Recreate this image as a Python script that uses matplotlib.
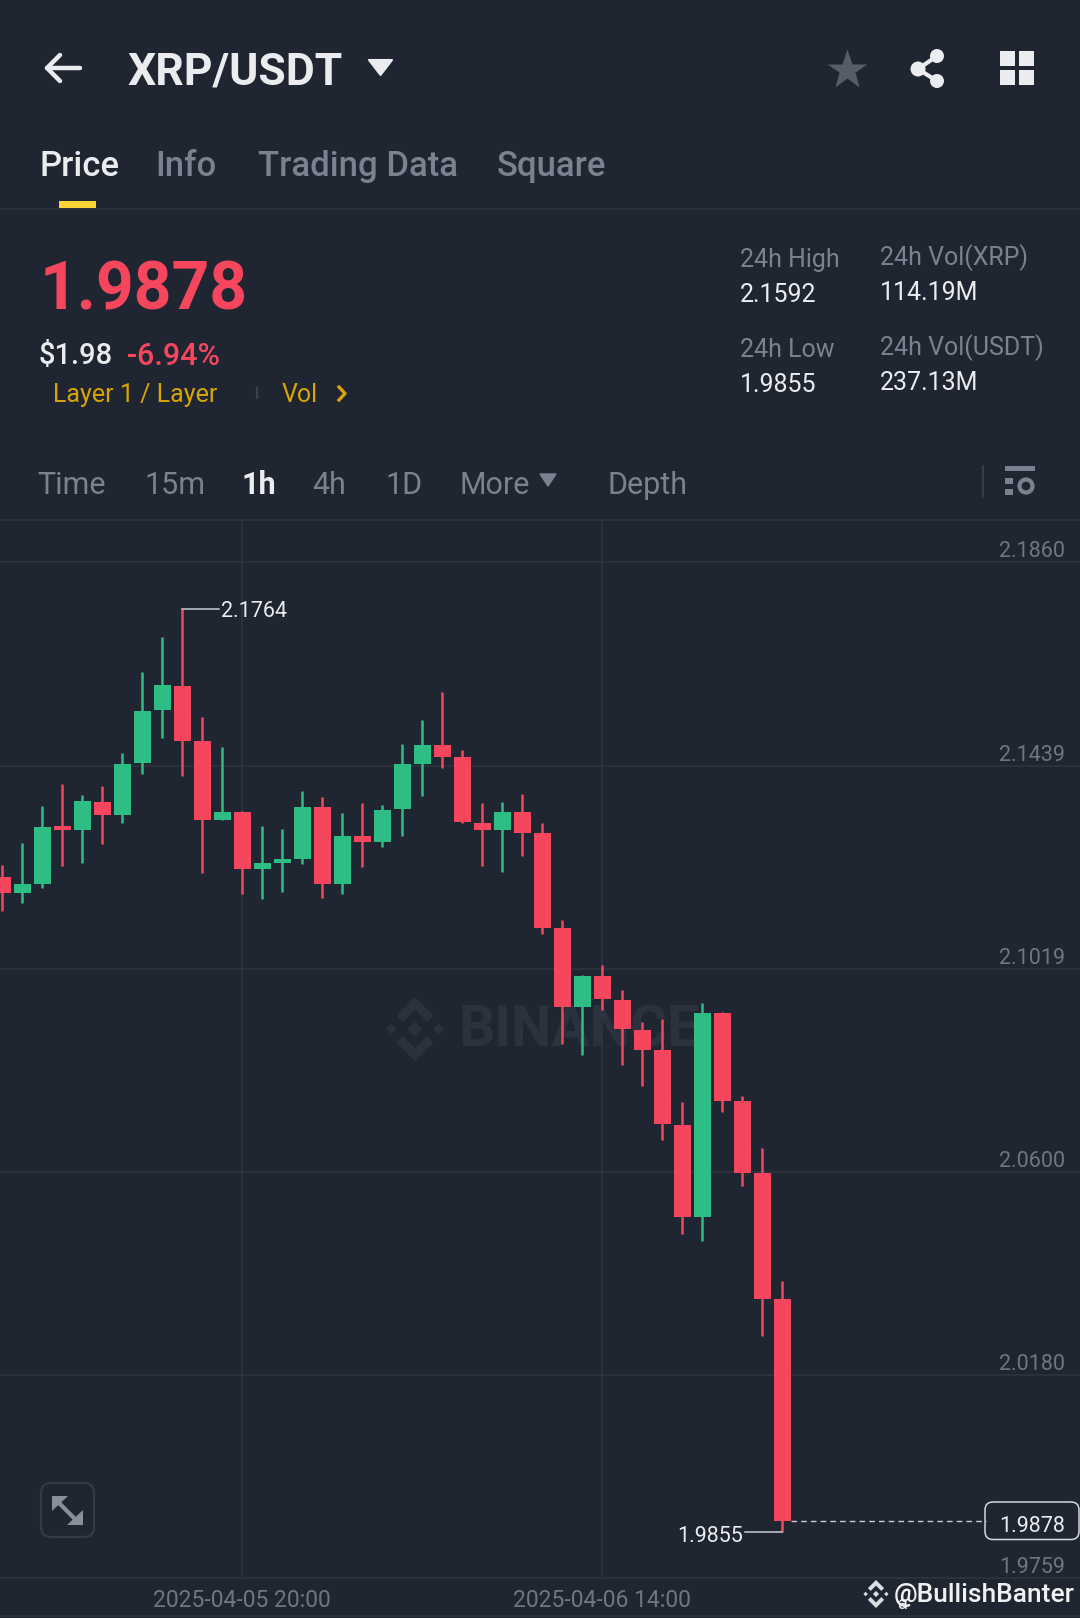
import numpy as np
import matplotlib
matplotlib.use('Agg')
import matplotlib.pyplot as plt
from matplotlib.patches import FancyBboxPatch, Polygon, Rectangle, Circle

# Candle values, hourly
opens = [2.1208, 2.1175, 2.1194, 2.1314, 2.1306, 2.1365, 2.1337, 2.1445, 2.1554, 2.1604,
         2.1491, 2.1327, 2.1343, 2.1226, 2.1238, 2.1247, 2.1354, 2.1194, 2.1294, 2.1281,
         2.1349, 2.1443, 2.1482, 2.1458, 2.1321, 2.1306, 2.1344, 2.1300, 2.1103, 2.0940,
         2.1004, 2.0955, 2.0893, 2.0851, 2.0697, 2.0506, 2.0927, 2.0745, 2.0596, 2.0336]
closes = [2.1175, 2.1194, 2.1312, 2.1306, 2.1366, 2.1337, 2.1443, 2.1552, 2.1605, 2.1490,
          2.1327, 2.1344, 2.1226, 2.1237, 2.1247, 2.1354, 2.1194, 2.1294, 2.1281, 2.1348,
          2.1442, 2.1481, 2.1458, 2.1322, 2.1306, 2.1343, 2.1299, 2.1104, 2.0940, 2.1004,
          2.0957, 2.0894, 2.0851, 2.0698, 2.0507, 2.0927, 2.0746, 2.0598, 2.0336, 1.9878]
highs = [2.1234, 2.1280, 2.1356, 2.1401, 2.1378, 2.1397, 2.1466, 2.1633, 2.1705, 2.1764,
         2.1539, 2.1478, 2.1345, 2.1314, 2.1309, 2.1387, 2.1375, 2.1341, 2.1362, 2.1358,
         2.1483, 2.1534, 2.1592, 2.1471, 2.1362, 2.1365, 2.1380, 2.1321, 2.1121, 2.1006,
         2.1026, 2.0975, 2.0909, 2.0915, 2.0743, 2.0949, 2.0930, 2.0756, 2.0648, 2.0373]
lows = [2.1139, 2.1156, 2.1186, 2.1232, 2.1237, 2.1277, 2.1320, 2.1422, 2.1497, 2.1417,
        2.1217, 2.1326, 2.1173, 2.1163, 2.1177, 2.1235, 2.1166, 2.1173, 2.1230, 2.1270,
        2.1294, 2.1377, 2.1434, 2.1321, 2.1231, 2.1219, 2.1253, 2.1092, 2.0864, 2.0840,
        2.0934, 2.0820, 2.0777, 2.0665, 2.0471, 2.0457, 2.0724, 2.0571, 2.0259, 1.9855]

price_ticks = [2.1860, 2.1439, 2.1019, 2.0600, 2.0180]
bottom_tick = 1.9759
time_positions = [12, 30]
time_labels = ['2025-04-05 20:00', '2025-04-06 14:00']
last_price = 1.9878

tabs = ['Price', 'Info', 'Trading Data', 'Square']
intervals = ['Time', '15m', '1h', '4h', '1D', 'More', 'Depth']

BG = '#1F2631'
GRID = '#2E3440'
RED = '#F6465D'
GREEN = '#2EBD85'
MUTED = '#7B828F'
AXIS_TXT = '#6F7683'
WHITE = '#EAECEF'
GOLD = '#D9A405'
MARK = '#2B313D'

plt.rcParams['font.family'] = ['Roboto', 'DejaVu Sans']

fig = plt.figure(figsize=(10.8, 16.18), dpi=100, facecolor=BG)

# ui layer in screen pixels, sits under the transparent chart axes
ui = fig.add_axes([0, 0, 1, 1], zorder=0)
ui.set_xlim(0, 1080)
ui.set_ylim(1618, 0)
ui.axis('off')

ax = fig.add_axes([0, 40 / 1618, 1, 1058 / 1618], zorder=1)
ax.patch.set_alpha(0)
ax.set_xlim(-0.1165, 53.88)
ax.set_ylim(1.97597, 2.19470)
for s in ax.spines.values():
    s.set_visible(False)
ax.tick_params(length=0, labelleft=False, labelbottom=False)
ax.set_yticks(price_ticks)
ax.set_xticks(time_positions)
ax.grid(True, color=GRID, lw=1.1)
ax.set_axisbelow(True)


def binance_logo(cx, cy, r, color):
    # diamond mark built from small rotated squares
    for dx, dy, size in [(0, 0, 0.22), (-0.74, 0, 0.16), (0.74, 0, 0.16)]:
        ui.add_patch(Polygon([(cx + (dx - size) * r, cy + dy * r), (cx + dx * r, cy + (dy - size) * r),
                              (cx + (dx + size) * r, cy + dy * r), (cx + dx * r, cy + (dy + size) * r)],
                             closed=True, fc=color, ec='none'))
    for sign in (-1, 1):
        ui.add_patch(Polygon([(cx, cy + sign * r), (cx + 0.58 * r, cy + sign * 0.42 * r),
                              (cx + 0.38 * r, cy + sign * 0.22 * r), (cx, cy + sign * 0.6 * r),
                              (cx - 0.38 * r, cy + sign * 0.22 * r), (cx - 0.58 * r, cy + sign * 0.42 * r)],
                             closed=True, fc=color, ec='none'))


# Chart watermark
binance_logo(415, 1029, 32, MARK)
ui.text(458, 1031, 'BINANCE', color=MARK, fontsize=41, fontweight='bold', va='center', ha='left')

# Candles
x = np.arange(len(opens))
colors = [GREEN if c >= o else RED for o, c in zip(opens, closes)]
ax.vlines(x, lows, highs, colors=colors, lw=1.8, zorder=3)
bottoms = [min(o, c) for o, c in zip(opens, closes)]
heights = [abs(c - o) for o, c in zip(opens, closes)]
ax.bar(x, heights, bottom=bottoms, width=0.87, color=colors, zorder=4)

# Price labels on the right
for p in price_ticks + [bottom_tick]:
    ax.annotate(f'{p:.4f}', (1, p), xycoords=('axes fraction', 'data'), xytext=(-11, 7.5),
                textcoords='offset points', ha='right', va='center', color=AXIS_TXT, fontsize=15.5)

# Time labels under the chart
for pos, lab in zip(time_positions, time_labels):
    ax.annotate(lab, (pos, 0), xycoords=('data', 'axes fraction'), xytext=(0, -16),
                textcoords='offset points', ha='center', va='center', color=AXIS_TXT, fontsize=16.5)

# High / low markers
hi_idx = int(np.argmax(highs))
lo_idx = int(np.argmin(lows))
ax.plot([hi_idx, hi_idx + 1.85], [highs[hi_idx]] * 2, color='#C9CDD3', lw=1.1, zorder=5)
ax.annotate(f'{highs[hi_idx]:.4f}', (hi_idx + 1.95, highs[hi_idx]), xytext=(0, -2), textcoords='offset points',
            color=WHITE, fontsize=15.5, va='center', ha='left')
ax.plot([lo_idx, lo_idx - 1.85], [lows[lo_idx]] * 2, color='#C9CDD3', lw=1.1, zorder=5)
ax.annotate(f'{lows[lo_idx]:.4f}', (lo_idx - 1.95, lows[lo_idx]), xytext=(0, -3), textcoords='offset points',
            color=WHITE, fontsize=15.5, va='center', ha='right')

# Last price line and box
ax.plot([39.45, 49.2], [last_price, last_price], color='#C9CDD3', lw=1, dashes=(4, 3), zorder=5)
ui.add_patch(FancyBboxPatch((993, 1510), 78, 21.5, boxstyle='round,pad=8', fc=BG, ec='#D5D8DD', lw=1.1))
ui.text(1065, 1526, f'{last_price:.4f}', color=WHITE, fontsize=15.5, va='center', ha='right')

# Chart frame lines
ui.plot([0, 1080], [520, 520], color=GRID, lw=1.1)
ui.plot([0, 1080], [1578, 1578], color=GRID, lw=1.1)
ui.plot([0, 1080], [1615.5, 1615.5], color=GRID, lw=1.1)

# Header
ui.plot([47, 80], [68, 68], color=WHITE, lw=3.2, solid_capstyle='round')
ui.plot([60, 47, 60], [55, 68, 81], color=WHITE, lw=3.2, solid_capstyle='round', solid_joinstyle='round')
ui.text(128, 72, 'XRP/USDT', color=WHITE, fontsize=32, fontweight='bold', va='center', ha='left')
ui.add_patch(Polygon([(369, 60), (392, 60), (380.5, 75)], closed=True, fc=WHITE, ec=WHITE, lw=1.5, joinstyle='round'))

# Star, share and grid icons
ui.plot([847], [70], marker='*', ms=30, color='#565C68', mec='none')
ui.plot([937, 918, 937], [56, 69, 81], color=WHITE, lw=3)
for cx, cy, r in [(937, 56, 7), (918, 69, 7.5), (937, 81, 7)]:
    ui.add_patch(Circle((cx, cy), r, fc=WHITE, ec='none'))
for gx in (1000, 1019):
    for gy in (51, 70):
        ui.add_patch(Rectangle((gx, gy), 15, 15, fc=WHITE, ec='none'))

# Tabs
tab_x = [39, 155, 258, 497]
for i, (lab, tx) in enumerate(zip(tabs, tab_x)):
    ui.text(tx, 166, lab, color=WHITE if i == 0 else MUTED, fontsize=25, fontweight='medium', va='center', ha='left')
ui.add_patch(Rectangle((59, 201), 37, 7, fc='#FCD535', ec='none'))
ui.plot([0, 1080], [208.5, 208.5], color=GRID, lw=1.1)

# Price block
ui.text(40, 291, f'{last_price:.4f}', color=RED, fontsize=47.5, fontweight='bold', va='center', ha='left')
ui.text(39, 356, '$1.98', color=WHITE, fontsize=21, fontweight='medium', va='center', ha='left')
ui.text(127, 356, '-6.94%', color=RED, fontsize=22, fontweight='medium', va='center', ha='left')
ui.text(53, 395, 'Layer 1 / Layer', color=GOLD, fontsize=18, va='center', ha='left')
ui.plot([257, 257], [388, 398], color='#3A404C', lw=1.5)
ui.text(282, 395, 'Vol', color=GOLD, fontsize=18, va='center', ha='left')
ui.plot([339, 345, 339], [387, 393.5, 400], color=GOLD, lw=2.4)

# 24h stats
stats = [(740, 260, '24h High', MUTED), (740, 295, '2.1592', WHITE),
         (740, 350, '24h Low', MUTED), (740, 385, '1.9855', WHITE),
         (880, 258, '24h Vol(XRP)', MUTED), (880, 293, '114.19M', WHITE),
         (880, 348, '24h Vol(USDT)', MUTED), (880, 383, '237.13M', WHITE)]
for sx, sy, lab, col in stats:
    ui.text(sx, sy, lab, color=col, fontsize=18, va='center', ha='left')

# Interval row
int_x = [37, 144, 241, 312, 385, 460, 607]
for lab, ix in zip(intervals, int_x):
    active = lab == '1h'
    ui.text(ix, 485, lab, color=WHITE if active else MUTED, fontsize=22,
            fontweight='bold' if active else 'normal', va='center', ha='left')
ui.add_patch(Polygon([(540, 474), (556, 474), (548, 486)], closed=True, fc=MUTED, ec=MUTED, lw=1))
ui.plot([983, 983], [466, 496], color='#3A404C', lw=1.3)
ui.add_patch(Rectangle((1005, 466), 30, 5, fc=MUTED, ec='none'))
ui.add_patch(Rectangle((1005, 478), 8, 6, fc=MUTED, ec='none'))
ui.add_patch(Rectangle((1005, 489), 8, 6, fc=MUTED, ec='none'))
ui.add_patch(Circle((1026, 486), 6.5, fc='none', ec=MUTED, lw=3))

# Expand button
ui.add_patch(FancyBboxPatch((51, 1493), 33, 34, boxstyle='round,pad=10', fc=BG, ec='#343A46', lw=1.6))
ui.plot([58, 76], [1502, 1520], color='#8A8F9A', lw=3)
ui.add_patch(Polygon([(52, 1496), (68, 1496), (52, 1511)], closed=True, fc='#8A8F9A', ec='none'))
ui.add_patch(Polygon([(83, 1525), (67, 1525), (83, 1510)], closed=True, fc='#8A8F9A', ec='none'))

# Repost credit bottom right
binance_logo(876, 1594, 14, '#DADDE1')
ui.text(894, 1595, '@BullishBanter', color='#F0F1F3', fontsize=19, fontweight='medium', va='center', ha='left')
ui.text(903, 1604, 'a', color='#F0F1F3', fontsize=13, va='center', ha='center')

fig.savefig('out.png', dpi=100, facecolor=BG)
